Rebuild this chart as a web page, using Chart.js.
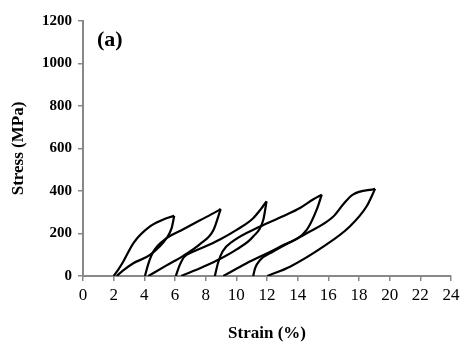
<!DOCTYPE html>
<html>
<head>
<meta charset="utf-8">
<script src="https://cdn.jsdelivr.net/npm/chart.js@4"></script>
<style>
  html, body { margin: 0; padding: 0; background: #fff; }
  #wrap { width: 474px; height: 348px; }
</style>
</head>
<body>
<div id="wrap"><canvas id="stressChart"></canvas></div>
<script>
// strain (%) / stress (MPa) per cycle; both branches listed from zero stress up to the peak
const loop1UpStrain = [2.0, 2.3, 2.63, 3.28, 4.37, 5.45, 5.95];
const loop1UpStress = [0, 30, 68, 154, 233, 272, 283];
const loop1DownStrain = [2.2, 2.6, 3.28, 4.37, 5.45, 5.78, 5.95];
const loop1DownStress = [0, 25, 60, 99, 178, 225, 283];

const loop2UpStrain = [4.04, 4.25, 4.59, 5.45, 6.54, 7.63, 8.72, 8.98];
const loop2UpStress = [0, 55, 115, 178, 220, 262, 304, 315];
const loop2DownStrain = [4.26, 5.45, 6.54, 7.63, 8.5, 8.98];
const loop2DownStress = [0, 50, 95, 150, 215, 315];

const loop3UpStrain = [6.05, 6.3, 6.6, 7.2, 7.85, 8.93, 10.02, 11.1, 11.6, 11.97];
const loop3UpStress = [0, 50, 90, 115, 135, 172, 217, 272, 315, 351];
const loop3DownStrain = [6.4, 7.85, 8.93, 10.02, 11.1, 11.76, 11.97];
const loop3DownStress = [0, 44, 80, 125, 186, 265, 351];

const loop4UpStrain = [8.6, 8.8, 9.1, 9.8, 11.55, 13.0, 14.15, 15.0, 15.57];
const loop4UpStress = [0, 60, 115, 165, 233, 280, 320, 360, 383];
const loop4DownStrain = [9.15, 10.67, 12.85, 14.59, 15.24, 15.57];
const loop4DownStress = [0, 60, 138, 217, 312, 383];

const loop5UpStrain = [11.1, 11.22, 11.55, 12.4, 14.59, 16.33, 17.0, 17.6, 19.05];
const loop5UpStress = [0, 36, 75, 115, 201, 280, 340, 383, 410];
const loop5DownStrain = [12.02, 13.5, 15.67, 17.4, 18.5, 19.05];
const loop5DownStress = [0, 44, 138, 233, 328, 410];

const strainTicks = [0, 2, 4, 6, 8, 10, 12, 14, 16, 18, 20, 22, 24];
const stressTicks = [0, 200, 400, 600, 800, 1000, 1200];

function pts(xs, ys) {
  return xs.map((x, i) => ({ x: x, y: ys[i] }));
}

const branches = [
  [loop1UpStrain, loop1UpStress], [loop1DownStrain, loop1DownStress],
  [loop2UpStrain, loop2UpStress], [loop2DownStrain, loop2DownStress],
  [loop3UpStrain, loop3UpStress], [loop3DownStrain, loop3DownStress],
  [loop4UpStrain, loop4UpStress], [loop4DownStrain, loop4DownStress],
  [loop5UpStrain, loop5UpStress], [loop5DownStrain, loop5DownStress]
];

const panelLabel = {
  id: 'panelLabel',
  afterDraw(chart) {
    const c = chart.ctx;
    c.save();
    c.font = 'bold 22px "Liberation Serif"';
    c.fillStyle = '#000';
    c.textBaseline = 'alphabetic';
    c.fillText('(a)', 97, 46);
    c.restore();
  }
};

const serif = '"Liberation Serif", "Times New Roman", serif';

new Chart(document.getElementById('stressChart'), {
  type: 'scatter',
  data: {
    datasets: branches.map(b => ({
      data: pts(b[0], b[1]),
      showLine: true,
      borderColor: '#000',
      borderWidth: 2.2,
      pointRadius: 0,
      cubicInterpolationMode: 'monotone',
      fill: false
    }))
  },
  options: {
    responsive: true,
    maintainAspectRatio: false,
    animation: false,
    layout: { padding: { top: 21, right: 23, left: 4 } },
    plugins: {
      legend: { display: false },
      tooltip: { enabled: false }
    },
    scales: {
      x: {
        type: 'linear',
        min: 0,
        max: 24,
        afterBuildTicks(scale) { scale.ticks = strainTicks.map(v => ({ value: v })); },
        ticks: { color: '#000', font: { family: serif, size: 17 }, padding: 4 },
        grid: { drawOnChartArea: false, drawTicks: true, tickLength: 5, color: '#888', lineWidth: 1.5 },
        border: { color: '#888', width: 2 },
        title: { display: true, text: 'Strain (%)', color: '#000', font: { family: serif, size: 17, weight: 'bold' }, padding: { top: 10 } },
        afterFit(scale) { scale.height = 72; }
      },
      y: {
        min: 0,
        max: 1200,
        afterBuildTicks(scale) { scale.ticks = stressTicks.map(v => ({ value: v })); },
        ticks: { color: '#000', font: { family: serif, size: 15, weight: 'bold' }, padding: 6, callback: v => String(v) },
        grid: { drawOnChartArea: false, drawTicks: true, tickLength: 5, color: '#888', lineWidth: 1.5 },
        border: { color: '#888', width: 2 },
        title: { display: true, text: 'Stress (MPa)', color: '#000', font: { family: serif, size: 17, weight: 'bold' }, padding: { bottom: 6 } },
        afterFit(scale) { scale.width = 79; }
      }
    }
  },
  plugins: [panelLabel]
});
</script>
</body>
</html>
